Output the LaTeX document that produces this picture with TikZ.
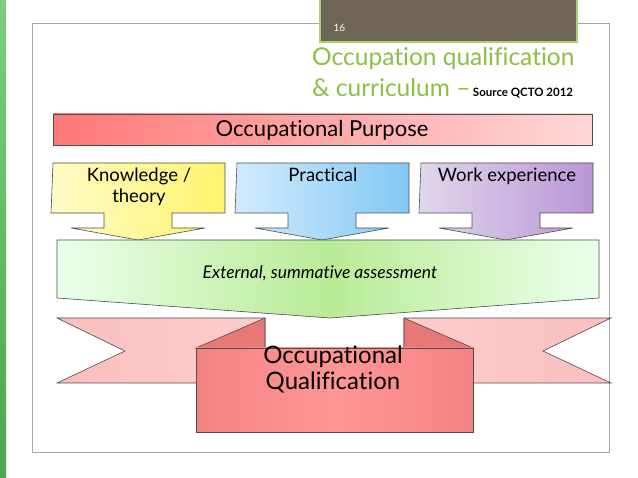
\documentclass[tikz,border=0pt]{standalone}
\usepackage{fontspec}
\setmainfont{Lato}[Ligatures={NoCommon}]
\begin{document}
\begin{tikzpicture}[x=1pt,y=-1pt,
  ol/.style={draw=black!70,line width=0.6pt},
  lbl/.style={font=\fontsize{18.5}{21}\selectfont,align=center}]
\useasboundingbox (0,0) rectangle (638,478);
\shade[top color=green!60!black!50,bottom color=green!50!black!70] (0,0) rectangle (6,478);
\draw[black!35,line width=0.8pt] (32,23) rectangle (609,452);
\draw[fill={rgb,255:red,110;green,101;blue,85},draw={rgb,255:red,170;green,210;blue,110},line width=1.5pt] (320,-2) rectangle (577,42);
\node[white,font=\fontsize{10}{11}\selectfont,anchor=west] (num) at (330,28) {16};
\definecolor{ttl}{RGB}{141,190,70}
\node[ttl,font=\fontsize{24.5}{26}\selectfont,anchor=west,inner sep=0] (t1) at (312,59) {Occupation qualification};
\node[anchor=west,inner sep=0] (t2) at (312,88) {\textcolor{ttl}{\fontsize{24.5}{26}\selectfont \& curriculum --} {\fontsize{11.5}{13}\selectfont\bfseries Source QCTO 2012}};
% purpose bar
\shade[left color={rgb,255:red,255;green,120;blue,120},right color={rgb,255:red,255;green,215;blue,215}] (53,114) rectangle (592,145);
\draw[ol] (53,114) rectangle (592,145);
\node[lbl,font=\fontsize{22}{24}\selectfont] (purp) at (322,130) {Occupational Purpose};
% three arrows
\foreach \x/\ca/\cb/\txt in {53/{rgb,255:red,255;green,250;blue,200}/{rgb,255:red,255;green,245;blue,110}/{Knowledge /\\theory},
  237/{rgb,255:red,210;green,235;blue,252}/{rgb,255:red,130;green,200;blue,245}/{Practical},
  421/{rgb,255:red,225;green,215;blue,235}/{rgb,255:red,185;green,150;blue,215}/{Work experience}}{
  \shade[left color=\ca,right color=\cb,ol]
    (\x,163) -- ++(172,0) -- ++(0,50) -- ++(-53,0) -- ++(0,15) -- ++(33,0) -- ++(-67,12) -- ++(-67,-12) -- ++(33,0) -- ++(0,-15) -- ++(-53,0) -- cycle;
  \node[lbl,anchor=north] at (\x+86,164) {\txt};
}
% green arrow
\shade[left color=green!8,right color=green!8,middle color={rgb,255:red,185;green,235;blue,150},ol]
  (57,240) -- (599,240) -- (599,298) -- (330,318) -- (57,298) -- cycle;
\node[font=\fontsize{17.5}{19}\selectfont\itshape] (ext) at (320,273) {External, summative assessment};
% ribbon
\shade[left color={rgb,255:red,250;green,190;blue,190},right color={rgb,255:red,255;green,205;blue,205},ol]
  (57,318) -- (265,318) -- (265,383) -- (57,383) -- (125,351) -- cycle;
\shade[left color={rgb,255:red,255;green,205;blue,205},right color={rgb,255:red,250;green,190;blue,190},ol]
  (404,318) -- (611,318) -- (543,351) -- (611,383) -- (404,383) -- cycle;
\draw[ol,fill={rgb,255:red,230;green,120;blue,120}] (196,348) -- (265,318) -- (265,348) -- cycle;
\draw[ol,fill={rgb,255:red,230;green,120;blue,120}] (404,318) -- (473,348) -- (404,348) -- cycle;
\shade[left color={rgb,255:red,245;green,130;blue,130},right color={rgb,255:red,245;green,130;blue,130},middle color={rgb,255:red,255;green,150;blue,150},ol] (196,348) rectangle (473,432);
\node[lbl,font=\fontsize{24}{26}\selectfont] (oq) at (333,369) {Occupational\\Qualification};
\end{tikzpicture}
\end{document}
